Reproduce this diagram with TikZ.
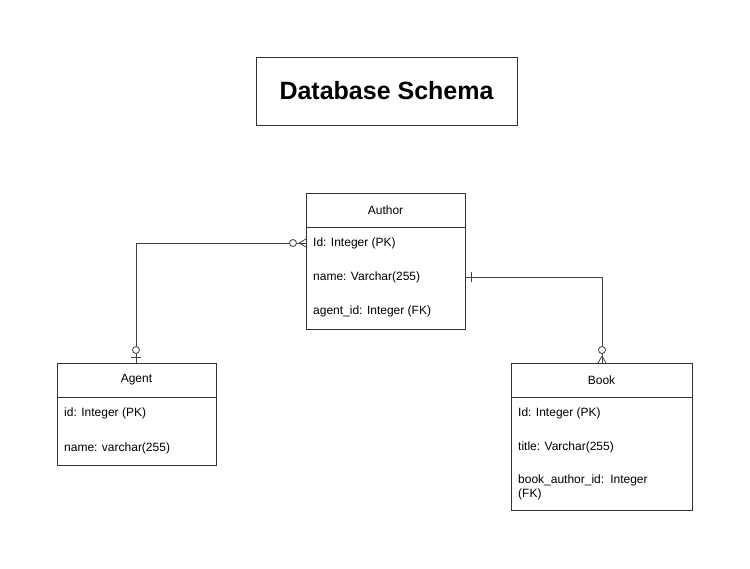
\documentclass[tikz,border=0pt]{standalone}
\usepackage{fontspec}
\setmainfont{Liberation Sans}
\begin{document}
\begin{tikzpicture}[x=1pt,y=-1pt,
  box/.style={draw=black!80,line width=0.8pt},
  txt/.style={anchor=west,inner sep=0pt,font=\fontsize{12}{14}\selectfont},
  hdr/.style={inner sep=0pt,font=\fontsize{12}{14}\selectfont},
  conn/.style={draw=black!75,line width=0.8pt},
  circ/.style={circle,draw=black!75,fill=white,line width=0.8pt,minimum size=7pt,inner sep=0pt}]
\useasboundingbox[fill=white] (0,0) rectangle (750,568);
% title
\node[box,minimum width=261pt,minimum height=68pt,inner sep=0pt,font=\fontsize{25}{30}\selectfont\bfseries] (title) at (386.5,91) {Database Schema};
% Author
\draw[box] (306,193) rectangle (465,329);
\draw[box] (306,227) -- (465,227);
\node[hdr] (authorh) at (385.5,210) {Author};
\node[txt] (a1) at (313,243) {Id: Integer (PK)};
\node[txt] (a2) at (313,277) {name: Varchar(255)};
\node[txt] (a3) at (313,311) {agent\_id: Integer (FK)};
% Agent
\draw[box] (57,363) rectangle (216,465);
\draw[box] (57,397) -- (216,397);
\node[hdr] (agenth) at (136.5,380) {Agent};
\node[txt] (g1) at (64,413) {id: Integer (PK)};
\node[txt] (g2) at (64,448) {name: varchar(255)};
% Book
\draw[box] (511,363) rectangle (692,510);
\draw[box] (511,397) -- (692,397);
\node[hdr] (bookh) at (601.5,380) {Book};
\node[txt] (b1) at (518,413) {Id: Integer (PK)};
\node[txt] (b2) at (518,447) {title: Varchar(255)};
\node[txt,align=left,text width=160pt] (b3) at (518,487) {book\_author\_id: Integer\\(FK)};
% connector Author -> Agent
\coordinate (c1a) at (306,243);
\coordinate (c1k) at (136,243);
\coordinate (c1b) at (136,363);
\draw[conn] (c1a) -- (c1k) -- (c1b);
\draw[conn] (299,243) -- (306,239) (299,243) -- (306,247);
\node[circ] (o1) at (293,243) {};
\draw[conn] (131,357) -- (141,357);
\node[circ] (o2) at (136,350) {};
% connector Author -> Book
\coordinate (c2a) at (465,277);
\coordinate (c2k) at (602,277);
\coordinate (c2b) at (602,363);
\draw[conn] (c2a) -- (c2k) -- (c2b);
\draw[conn] (471,272) -- (471,282);
\draw[conn] (602,356) -- (598,363) (602,356) -- (606,363);
\node[circ] (o3) at (602,350) {};
\end{tikzpicture}
\end{document}
